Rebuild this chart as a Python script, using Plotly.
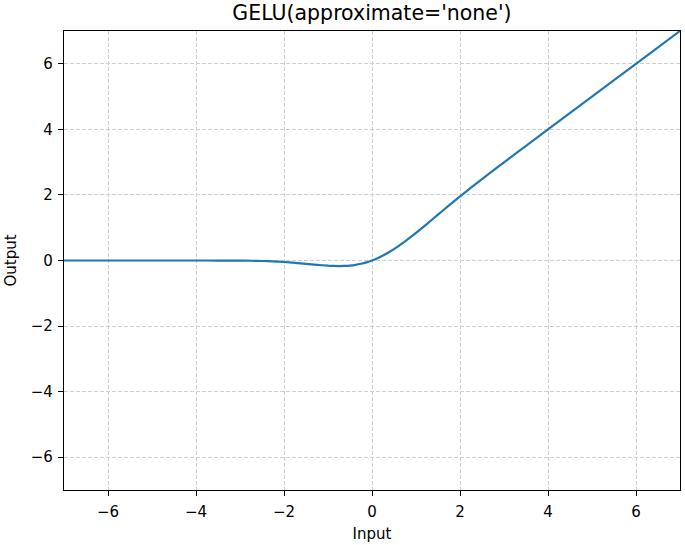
import plotly.graph_objects as go

x_vals = [-7, -6, -5, -4, -3.5, -3, -2.75, -2.5, -2.25, -2, -1.75, -1.5, -1.25, -1, -0.875, -0.75,
          -0.625, -0.5, -0.375, -0.25, -0.125, 0, 0.125, 0.25, 0.375, 0.5, 0.625, 0.75, 1, 1.25,
          1.5, 1.75, 2, 2.25, 2.5, 2.75, 3, 3.5, 4, 5, 6, 7]
y_vals = [0.0, 0.0, 0.0, -0.0001, -0.0008, -0.004, -0.0082, -0.0155, -0.0275, -0.0455, -0.0701,
          -0.1002, -0.1320, -0.1587, -0.1668, -0.1700, -0.1665, -0.1543, -0.1328, -0.1003, -0.0563,
          0.0, 0.0687, 0.1497, 0.2422, 0.3457, 0.4585, 0.5800, 0.8413, 1.1180, 1.3998, 1.6799,
          1.9545, 2.2225, 2.4845, 2.7418, 2.9960, 3.4992, 3.9999, 5.0, 6.0, 7.0]

x_ticks = [-6, -4, -2, 0, 2, 4, 6]
y_ticks = [-6, -4, -2, 0, 2, 4, 6]
tick_text = ["\u22126", "\u22124", "\u22122", "0", "2", "4", "6"]

fig = go.Figure()
fig.add_trace(go.Scatter(x=x_vals, y=y_vals, mode="lines",
                         line=dict(color="#1f77b4", width=2.2, shape="spline", smoothing=0.6)))

axis_common = dict(
    showline=True, linecolor="black", linewidth=1.2, mirror=True,
    ticks="outside", ticklen=5, tickwidth=1, tickcolor="black",
    showgrid=True, gridcolor="#cfcfcf", griddash="4px,2px", gridwidth=1,
    zeroline=False, tickfont=dict(size=15, color="black"),
)

fig.update_layout(
    width=685, height=545,
    paper_bgcolor="white", plot_bgcolor="white",
    font=dict(family="DejaVu Sans", color="black"),
    margin=dict(l=64, r=5, t=31, b=55),
    showlegend=False,
    title=dict(text="GELU(approximate='none')", x=0.543, xanchor="center", y=0.99, yanchor="top",
               font=dict(size=20.5, color="black")),
    xaxis=dict(range=[-7, 7], tickvals=x_ticks, ticktext=tick_text, ticklabelstandoff=3,
               title=dict(text="Input", font=dict(size=15), standoff=8), **axis_common),
    yaxis=dict(range=[-7, 7], tickvals=y_ticks, ticktext=tick_text, ticklabelstandoff=2,
               title=dict(text="Output", font=dict(size=15), standoff=10), **axis_common),
)

fig.write_html("out.html", config={"displayModeBar": False},
               post_script="document.body.style.margin='0';document.body.style.padding='0';")
